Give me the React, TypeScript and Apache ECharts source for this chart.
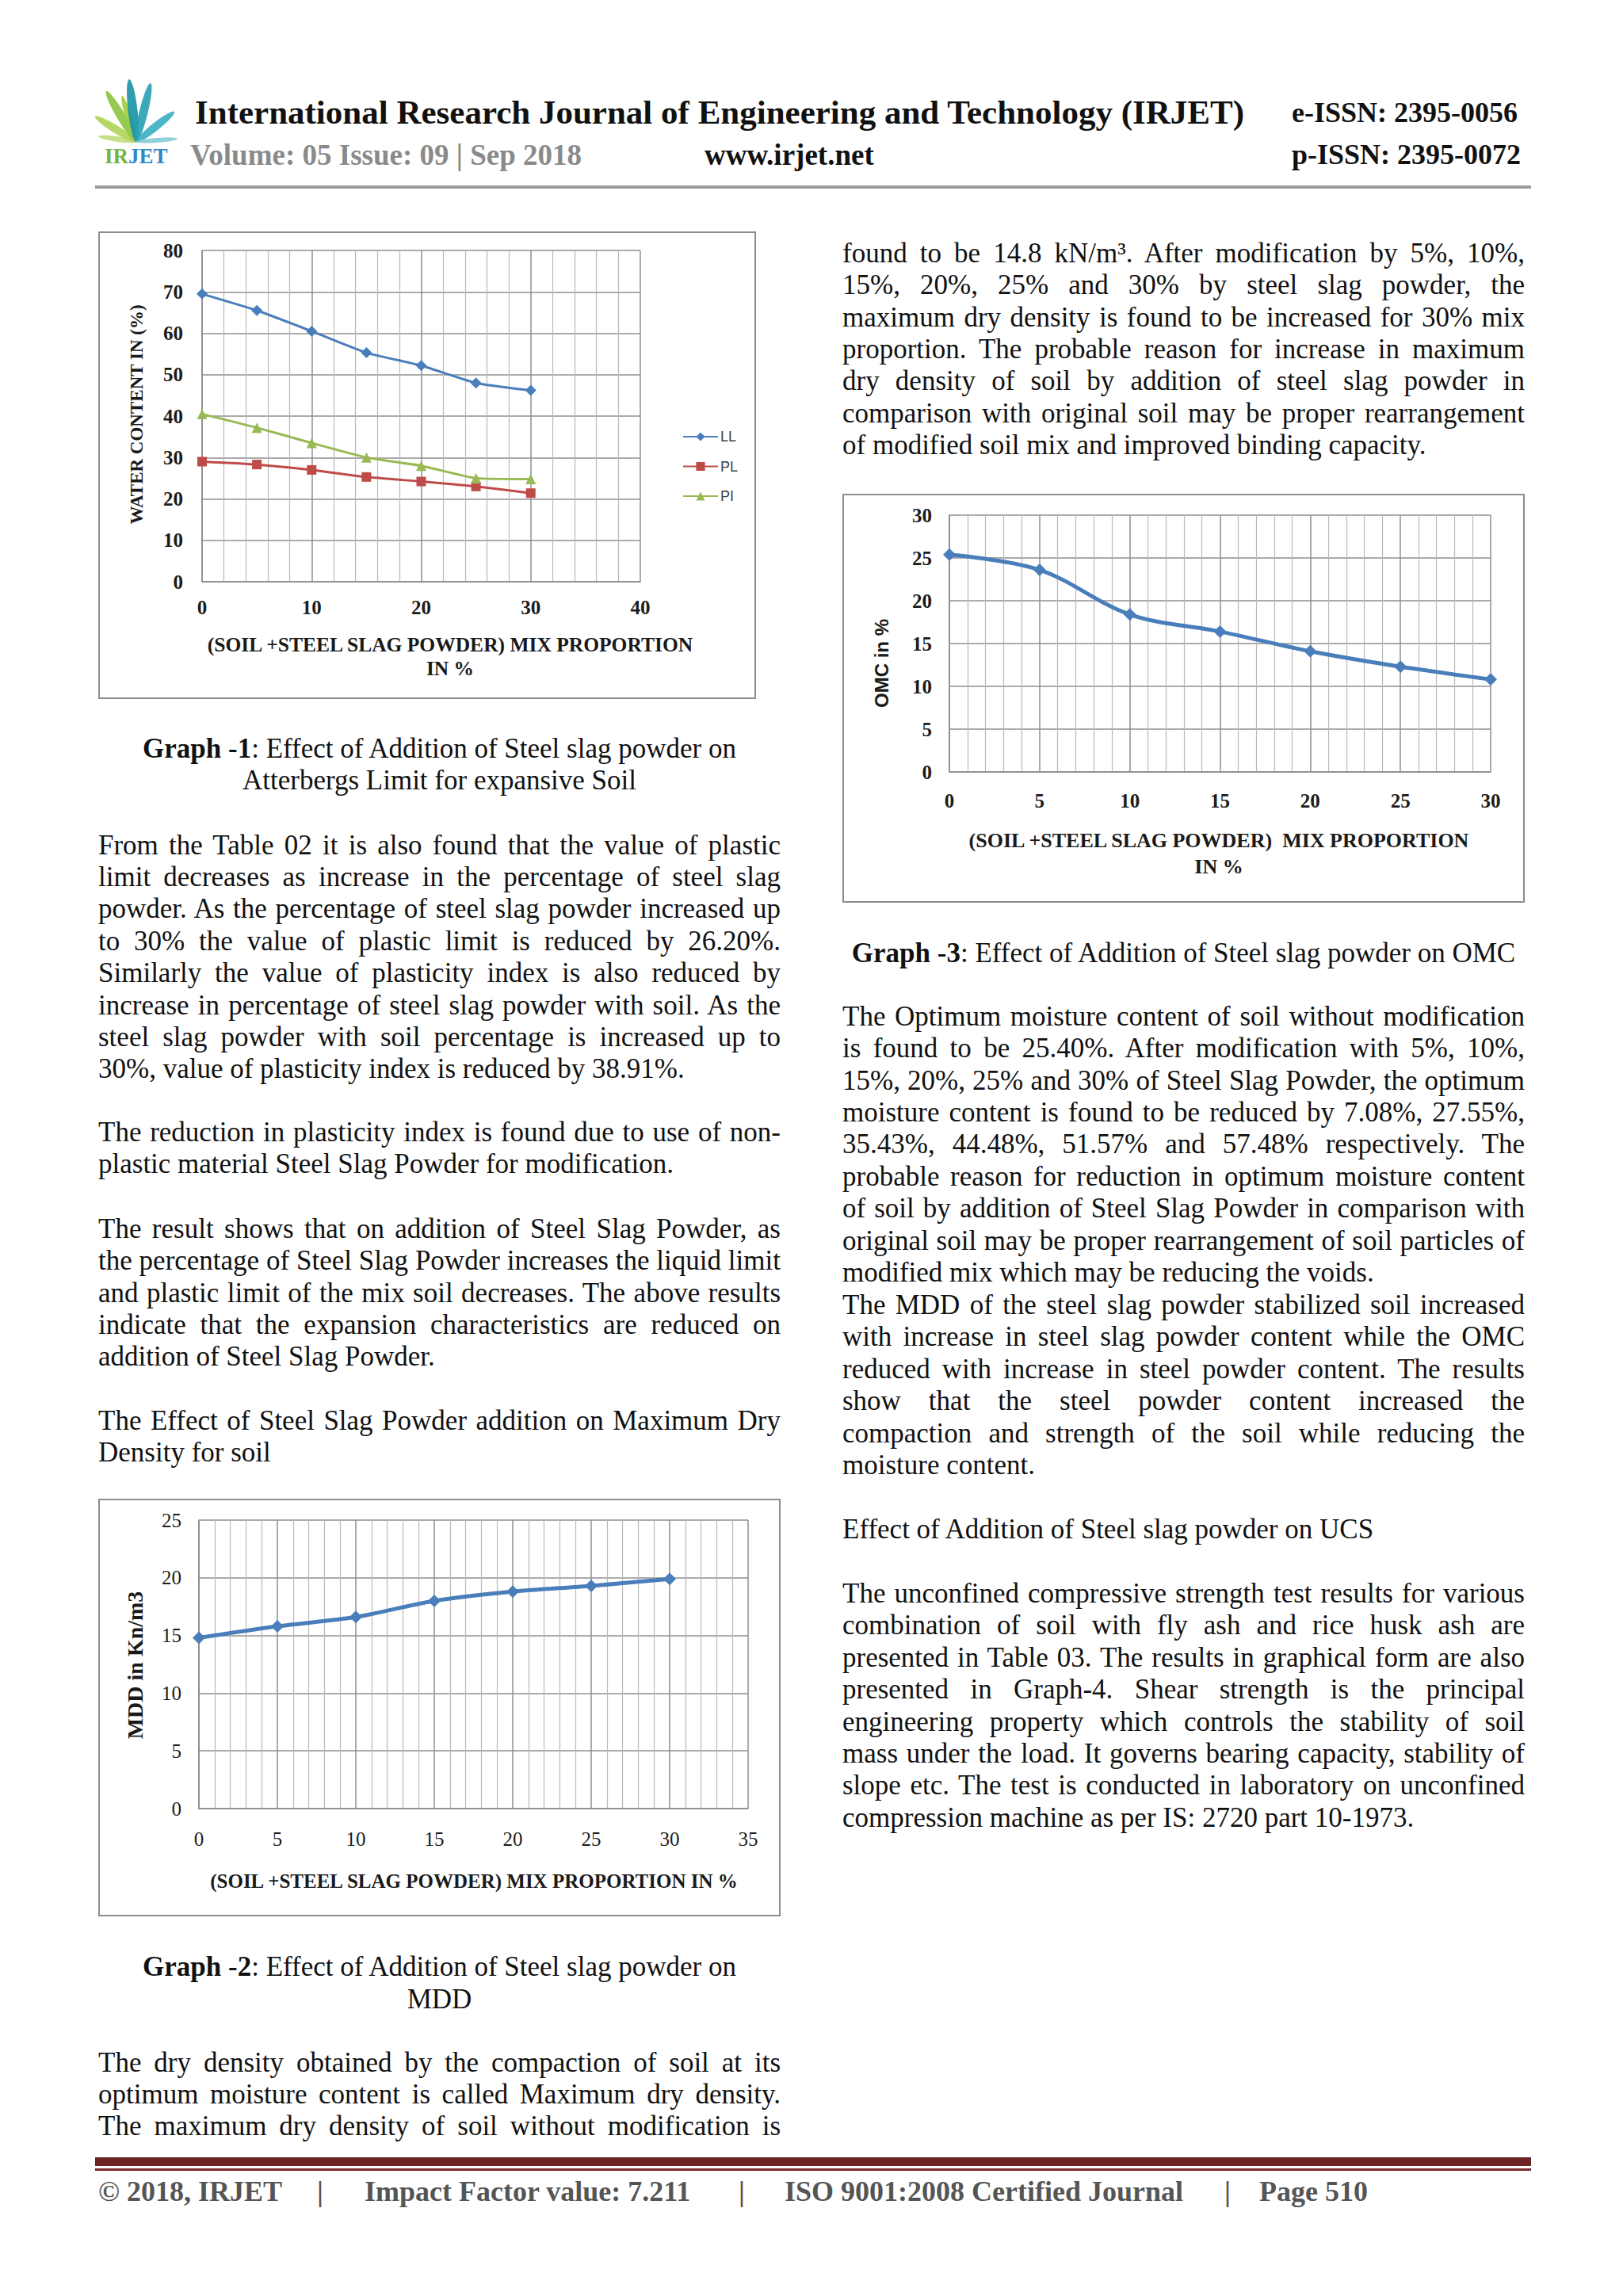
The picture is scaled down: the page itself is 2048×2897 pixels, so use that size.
import React, { useEffect, useRef } from "react";
import * as echarts from "echarts";

// ---------------- data ----------------
const mixProportion = [0, 5, 10, 15, 20, 25, 30];
const liquidLimit = [69.5, 65.5, 60.5, 55.3, 52.2, 48.0, 46.2];
const plasticLimit = [29.0, 28.3, 27.0, 25.3, 24.2, 23.0, 21.4];
const plasticityIndex = [40.5, 37.2, 33.5, 30.0, 28.0, 25.0, 24.8];
const maxDryDensity = [14.8, 15.8, 16.6, 18.0, 18.8, 19.3, 19.9];
const optimumMoisture = [25.4, 23.6, 18.4, 16.4, 14.1, 12.3, 10.8];

const atterbergNames = ["LL", "PL", "PI"];
const g1X = { min: 0, max: 40, interval: 10 };
const g1Y = { min: 0, max: 80, interval: 10 };
const g2X = { min: 0, max: 35, interval: 5 };
const g2Y = { min: 0, max: 25, interval: 5 };
const g3X = { min: 0, max: 30, interval: 5 };
const g3Y = { min: 0, max: 30, interval: 5 };

const xTitle1 = "(SOIL +STEEL SLAG POWDER) MIX PROPORTION\nIN %";
const yTitle1 = "WATER CONTENT IN (%)";
const xTitle2 = "(SOIL +STEEL SLAG POWDER) MIX PROPORTION IN %";
const yTitle2 = "MDD in Kn/m3";
const xTitle3 = "(SOIL +STEEL SLAG POWDER)  MIX PROPORTION\nIN %";
const yTitle3 = "OMC in %";

// ---------------- page text ----------------
const paraA = [
  "From the Table 02 it is also found that the value of plastic",
  "limit decreases as increase in the percentage of steel slag",
  "powder. As the percentage of steel slag powder increased up",
  "to 30% the value of plastic limit is reduced by 26.20%.",
  "Similarly the value of plasticity index is also reduced by",
  "increase in percentage of steel slag powder with soil. As the",
  "steel slag powder with soil percentage is increased up to",
  "30%, value of plasticity index is reduced by 38.91%.",
];
const paraB = [
  "The reduction in plasticity index is found due to use of non-",
  "plastic material Steel Slag Powder for modification.",
];
const paraC = [
  "The result shows that on addition of Steel Slag Powder, as",
  "the percentage of Steel Slag Powder increases the liquid limit",
  "and plastic limit of the mix soil decreases. The above results",
  "indicate that the expansion characteristics are reduced on",
  "addition of Steel Slag Powder.",
];
const paraD = ["The Effect of Steel Slag Powder addition on Maximum Dry", "Density for soil"];
const paraE = [
  "The dry density obtained by the compaction of soil at its",
  "optimum moisture content is called Maximum dry density.",
  "The maximum dry density of soil without modification is",
];
const paraF = [
  "found to be 14.8 kN/m\u00b3. After modification by 5%, 10%,",
  "15%, 20%, 25% and 30% by steel slag powder, the",
  "maximum dry density is found to be increased for 30% mix",
  "proportion. The probable reason for increase in maximum",
  "dry density of soil by addition of steel slag powder in",
  "comparison with original soil may be proper rearrangement",
  "of modified soil mix and improved binding capacity.",
];
const paraG = [
  "The Optimum moisture content of soil without modification",
  "is found to be 25.40%. After modification with 5%, 10%,",
  "15%, 20%, 25% and 30% of Steel Slag Powder, the optimum",
  "moisture content is found to be reduced by 7.08%, 27.55%,",
  "35.43%, 44.48%, 51.57% and 57.48% respectively. The",
  "probable reason for reduction in optimum moisture content",
  "of soil by addition of Steel Slag Powder in comparison with",
  "original soil may be proper rearrangement of soil particles of",
  "modified mix which may be reducing the voids.",
];
const paraG2 = [
  "The MDD of the steel slag powder stabilized soil increased",
  "with increase in steel slag powder content while the OMC",
  "reduced with increase in steel powder content. The results",
  "show that the steel powder content increased the",
  "compaction and strength of the soil while reducing the",
  "moisture content.",
];
const paraH = ["Effect of Addition of Steel slag powder on UCS"];
const paraI = [
  "The unconfined compressive strength test results for various",
  "combination of soil with fly ash and rice husk ash are",
  "presented in Table 03. The results in graphical form are also",
  "presented in Graph-4. Shear strength is the principal",
  "engineering property which controls the stability of soil",
  "mass under the load. It governs bearing capacity, stability of",
  "slope etc. The test is conducted in laboratory on unconfined",
  "compression machine as per IS: 2720 part 10-1973.",
];

const SERIF = "'Liberation Serif', 'DejaVu Serif', serif";
const SANS = "'Liberation Sans', Arial, sans-serif";
const BLUE = "#4A7EBB";
const RED = "#BE4B48";
const GREEN = "#98B954";

function pairs(ys: number[]) {
  return mixProportion.map((x, i) => [x, ys[i]]);
}

function valueAxis(r: { min: number; max: number; interval: number }, o: any) {
  return {
    type: "value",
    min: r.min,
    max: r.max,
    interval: r.interval,
    axisLine: { show: true, onZero: false, lineStyle: { color: "#8a8a8a", width: 1.5 } },
    axisTick: { show: false },
    axisLabel: {
      margin: o.margin,
      fontFamily: SERIF,
      fontSize: o.fontSize,
      fontWeight: o.weight,
      color: "#1c1c1c",
    },
    splitLine: { show: true, lineStyle: { color: "#8f8f8f", width: 1.5 } },
    minorTick: { show: false, splitNumber: o.minor || 5 },
    minorSplitLine: { show: !!o.minor, lineStyle: { color: "#b9b9b9", width: 1.2 } },
  };
}

function titleText(x: number, y: number, text: string, o: any) {
  return {
    type: "text",
    x,
    y,
    rotation: o.rotate ? Math.PI / 2 : 0,
    silent: true,
    style: {
      text,
      fontFamily: o.family || SERIF,
      fontSize: o.fontSize,
      fontWeight: "bold",
      fill: "#1a1a1a",
      align: "center",
      verticalAlign: "middle",
      lineHeight: o.lineHeight || o.fontSize,
    },
  };
}

const option1: any = {
  animation: false,
  grid: { left: 129, top: 22, width: 553, height: 418, containLabel: false },
  xAxis: valueAxis(g1X, { margin: 20, fontSize: 25, weight: "bold", minor: 5 }),
  yAxis: valueAxis(g1Y, { margin: 24, fontSize: 25, weight: "bold" }),
  legend: {
    orient: "vertical",
    left: 730,
    top: 243,
    itemWidth: 44,
    itemHeight: 14,
    itemGap: 24 - 4.5,
    data: atterbergNames,
    textStyle: { fontFamily: SANS, fontSize: 18, color: "#404040", padding: [0, 0, 0, -2] },
  },
  graphic: [
    titleText(46, 229, yTitle1, { rotate: true, fontSize: 23 }),
    titleText(442, 534, xTitle1, { fontSize: 25.5, lineHeight: 30 }),
  ],
  series: [
    {
      name: atterbergNames[0],
      type: "line",
      data: pairs(liquidLimit),
      smooth: 0.15,
      symbol: "diamond",
      symbolSize: 14,
      lineStyle: { color: BLUE, width: 3 },
      itemStyle: { color: BLUE },
    },
    {
      name: atterbergNames[1],
      type: "line",
      data: pairs(plasticLimit),
      smooth: 0.15,
      symbol: "rect",
      symbolSize: 12,
      lineStyle: { color: RED, width: 3 },
      itemStyle: { color: RED },
    },
    {
      name: atterbergNames[2],
      type: "line",
      data: pairs(plasticityIndex),
      smooth: 0.15,
      symbol: "triangle",
      symbolSize: 13,
      lineStyle: { color: GREEN, width: 3 },
      itemStyle: { color: GREEN },
    },
  ],
};

const option2: any = {
  animation: false,
  grid: { left: 125, top: 25, width: 693, height: 364 },
  xAxis: valueAxis(g2X, { margin: 26, fontSize: 25, weight: "normal", minor: 5 }),
  yAxis: valueAxis(g2Y, { margin: 22, fontSize: 25, weight: "normal" }),
  graphic: [
    titleText(44, 208, yTitle2, { rotate: true, fontSize: 28 }),
    titleText(472, 480, xTitle2, { fontSize: 25 }),
  ],
  series: [
    {
      name: "MDD",
      type: "line",
      data: pairs(maxDryDensity),
      smooth: 0.3,
      symbol: "diamond",
      symbolSize: 16,
      lineStyle: { color: BLUE, width: 5 },
      itemStyle: { color: BLUE },
    },
  ],
};

const option3: any = {
  animation: false,
  grid: { left: 133, top: 25, width: 683, height: 324 },
  xAxis: valueAxis(g3X, { margin: 24, fontSize: 25, weight: "bold", minor: 5 }),
  yAxis: valueAxis(g3Y, { margin: 22, fontSize: 25, weight: "bold" }),
  graphic: [
    titleText(47, 212, yTitle3, { rotate: true, fontSize: 24, family: SANS }),
    titleText(473, 452, xTitle3, { fontSize: 26, lineHeight: 33 }),
  ],
  series: [
    {
      name: "OMC",
      type: "line",
      data: pairs(optimumMoisture),
      smooth: 0.35,
      symbol: "diamond",
      symbolSize: 16,
      lineStyle: { color: BLUE, width: 5 },
      itemStyle: { color: BLUE },
    },
  ],
};

function ChartBox(props: { option: any; left: number; top: number; width: number; height: number }) {
  const ref = useRef<HTMLDivElement>(null);
  useEffect(() => {
    const chart = echarts.init(ref.current as HTMLDivElement, null, { renderer: "svg" });
    chart.setOption(props.option);
    return () => chart.dispose();
  }, []);
  const { left, top, width, height } = props;
  return (
    <div
      style={{
        position: "absolute",
        left,
        top,
        width,
        height,
        border: "2px solid #8c8c8c",
        boxSizing: "border-box",
        background: "#fff",
      }}
    >
      <div ref={ref} style={{ width: width - 4, height: height - 4 }} />
    </div>
  );
}

const K = 2048 / 1108;
const LINE = 40.4;
const FONT = 35;

function Para(props: { x: number; y: number; lines: string[]; end?: boolean }) {
  const top0 = props.y * K;
  return (
    <>
      {props.lines.map((t, i) => {
        const last = props.end && i === props.lines.length - 1;
        return (
          <div
            key={i}
            style={{
              position: "absolute",
              left: props.x,
              top: Math.round(top0 + i * LINE - 21),
              width: 861,
              height: 42,
              lineHeight: "42px",
              fontSize: FONT,
              fontFamily: SERIF,
              color: "#111",
              whiteSpace: "nowrap",
              textAlign: last ? "left" : "justify",
              textAlignLast: last ? "left" : "justify",
            }}
          >
            {t}
          </div>
        );
      })}
    </>
  );
}

function Caption(props: { x: number; y: number; bold: string; lines: string[] }) {
  const top0 = props.y * K;
  return (
    <>
      {props.lines.map((t, i) => (
        <div
          key={i}
          style={{
            position: "absolute",
            left: props.x,
            top: Math.round(top0 + i * LINE - 21),
            width: 861,
            height: 42,
            lineHeight: "42px",
            fontSize: FONT,
            fontFamily: SERIF,
            color: "#111",
            whiteSpace: "nowrap",
            textAlign: "center",
          }}
        >
          {i === 0 ? <b>{props.bold}</b> : null}
          {t}
        </div>
      ))}
    </>
  );
}

function Abs(props: { x: number; y: number; children: any; size: number; color?: string; bold?: boolean; family?: string }) {
  return (
    <div
      style={{
        position: "absolute",
        left: props.x,
        top: props.y - props.size * 0.6,
        fontSize: props.size,
        lineHeight: `${Math.round(props.size * 1.2)}px`,
        fontFamily: props.family || SERIF,
        fontWeight: props.bold === false ? "normal" : "bold",
        color: props.color || "#111",
        whiteSpace: "nowrap",
      }}
    >
      {props.children}
    </div>
  );
}

function Logo() {
  const base = [62, 84];
  const leaves = [
    { tip: [14, 77], w: 7, c: "#c3dd7e" },
    { tip: [10, 52], w: 10, c: "#b0d154" },
    { tip: [24, 20], w: 11, c: "#8cc43f" },
    { tip: [44, 26], w: 8, c: "#a2cc3a" },
    { tip: [53, 5], w: 12, c: "#1793a5" },
    { tip: [80, 10], w: 11, c: "#27a0b2" },
    { tip: [110, 46], w: 10, c: "#3aaec0" },
    { tip: [114, 80], w: 6, c: "#86cbd6" },
  ];
  return (
    <svg style={{ position: "absolute", left: 110, top: 95 }} width={130} height={130}>
      {leaves.map((l, i) => {
        const cx = (l.tip[0] + base[0]) / 2;
        const cy = (l.tip[1] + base[1]) / 2;
        const dx = l.tip[0] - base[0];
        const dy = l.tip[1] - base[1];
        const len = Math.sqrt(dx * dx + dy * dy);
        const ang = (Math.atan2(dy, dx) * 180) / Math.PI;
        return (
          <ellipse
            key={i}
            cx={cx}
            cy={cy}
            rx={len / 2}
            ry={l.w / 2}
            fill={l.c}
            opacity={0.9}
            transform={`rotate(${ang} ${cx} ${cy})`}
          />
        );
      })}
      <text x={22} y={111} fontFamily={SERIF} fontWeight="bold" fontSize={27}>
        <tspan fill="#74b43c">IR</tspan>
        <tspan fill="#2f87c8">JET</tspan>
      </text>
    </svg>
  );
}

export default function App() {
  const L = 124;
  const R = 1063;
  return (
    <div
      style={{
        position: "absolute",
        left: 0,
        top: 0,
        width: 2048,
        height: 2897,
        background: "#fff",
        overflow: "hidden",
      }}
    >
      <Logo />
      <Abs x={246} y={142} size={43}>
        International Research Journal of Engineering and Technology (IRJET)
      </Abs>
      <Abs x={1630} y={143} size={36}>
        e-ISSN: 2395-0056
      </Abs>
      <Abs x={240} y={196} size={37} color="#8a8a8a">
        Volume: 05 Issue: 09 | Sep 2018
      </Abs>
      <Abs x={889} y={196} size={37}>
        www.irjet.net
      </Abs>
      <Abs x={1630} y={196} size={36}>
        p-ISSN: 2395-0072
      </Abs>
      <div style={{ position: "absolute", left: 120, top: 234, width: 1812, height: 4, background: "#9a9a9a" }} />

      <ChartBox option={option1} left={124} top={292} width={830} height={590} />
      <Caption x={L} y={511} bold="Graph -1" lines={[": Effect of Addition of Steel slag powder on", "Atterbergs Limit for expansive Soil"]} />
      <Para x={L} y={577} lines={paraA} end />
      <Para x={L} y={773} lines={paraB} end />
      <Para x={L} y={839} lines={paraC} end />
      <Para x={L} y={970} lines={paraD} end />
      <ChartBox option={option2} left={124} top={1891} width={861} height={527} />
      <Caption x={L} y={1343} bold="Graph -2" lines={[": Effect of Addition of Steel slag powder on", "MDD"]} />
      <Para x={L} y={1408} lines={paraE} />

      <Para x={R} y={173} lines={paraF} end />
      <ChartBox option={option3} left={1063} top={623} width={861} height={516} />
      <Caption x={R} y={651} bold="Graph -3" lines={[": Effect of Addition of Steel slag powder on OMC"]} />
      <Para x={R} y={694} lines={paraG} end />
      <Para x={R} y={891} lines={paraG2} end />
      <Para x={R} y={1044} lines={paraH} end />
      <Para x={R} y={1088} lines={paraI} end />

      <div style={{ position: "absolute", left: 120, top: 2722, width: 1812, height: 11, background: "#6b2424" }} />
      <div style={{ position: "absolute", left: 120, top: 2736, width: 1812, height: 3, background: "#7a2a2a" }} />
      <Abs x={124} y={2766} size={36} color="#555">
        © 2018, IRJET
      </Abs>
      <Abs x={400} y={2766} size={36} color="#555">
        |
      </Abs>
      <Abs x={460} y={2766} size={36} color="#555">
        Impact Factor value: 7.211
      </Abs>
      <Abs x={932} y={2766} size={36} color="#555">
        |
      </Abs>
      <Abs x={990} y={2766} size={36} color="#555">
        ISO 9001:2008 Certified Journal
      </Abs>
      <Abs x={1545} y={2766} size={36} color="#555">
        |
      </Abs>
      <Abs x={1589} y={2766} size={36} color="#555">
        Page 510
      </Abs>
    </div>
  );
}
